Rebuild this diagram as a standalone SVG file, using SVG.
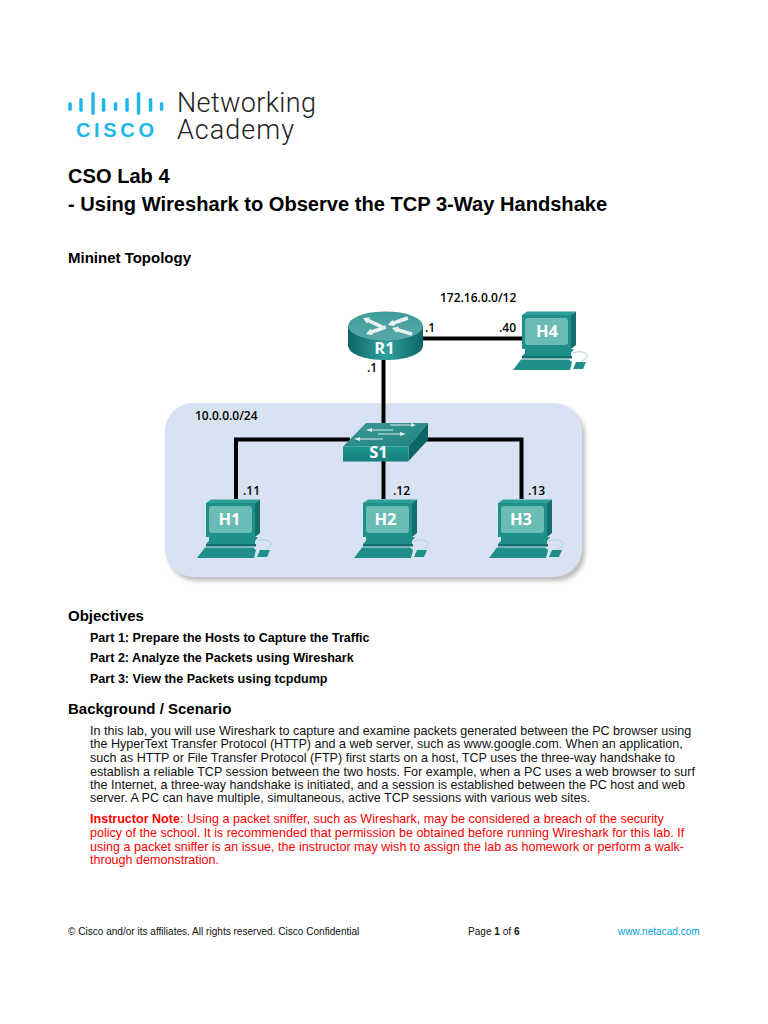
<svg xmlns="http://www.w3.org/2000/svg" width="768" height="1024" viewBox="0 0 768 1024">
<style>
text{font-family:"Liberation Sans",Arial,sans-serif;fill:#000}
.h1{font-size:20.100px;font-weight:700}
.h2{font-size:15px;font-weight:700}
.part{font-size:12.550px;font-weight:700}
.body{font-size:12.550px;fill:#111}
.red{font-size:12.550px;fill:#f00}
.foot{font-size:10.070px;fill:#111}
.lbl{font-family:"Open Sans","DejaVu Sans",sans-serif;font-size:12px;font-weight:600}
.dev{font-family:"Open Sans","DejaVu Sans",sans-serif;font-size:16.500px;font-weight:700;fill:#fff;text-anchor:middle}
.logo{font-family:"Roboto","Inter",sans-serif;font-size:27px;font-weight:300;fill:#222}
.bar{fill:#1fb6e8}
.wire{fill:none;stroke:#000;stroke-width:4}
.teal{fill:#1f8f8a}
.tealD{fill:#136f6e}
.tealL{fill:#2f9f9a}
.arr{fill:#e8f2f1}
.sw{fill:#dcecec}
</style>
<defs>
<linearGradient id="rg" x1="0" x2="1" y1="0" y2="0"><stop offset="0" stop-color="#0d6667"/><stop offset=".5" stop-color="#2fa09d"/><stop offset="1" stop-color="#0d6667"/></linearGradient>
<linearGradient id="rt" x1="0" x2="0" y1="0" y2="1"><stop offset="0" stop-color="#3f9c9c"/><stop offset="1" stop-color="#5aa9aa"/></linearGradient>
<linearGradient id="sf" x1="0" x2="0" y1="0" y2="1"><stop offset="0" stop-color="#1d9691"/><stop offset="1" stop-color="#167f7c"/></linearGradient>
<linearGradient id="st" x1="0" x2="1" y1="0" y2="1"><stop offset="0" stop-color="#3b9a97"/><stop offset="1" stop-color="#1f827f"/></linearGradient>
<filter id="sh" x="-5%" y="-5%" width="112%" height="112%"><feGaussianBlur stdDeviation="2"/></filter>
<g id="pc">
<path class="tealL" d="M206 503 L211 499.500 H260 L255 503 Z"/>
<path class="tealD" d="M255 503 L260 499.500 V533 L255 537 Z"/>
<rect class="teal" x="206" y="503" width="49" height="34"/>
<rect x="209" y="506" width="43" height="27" rx="3" fill="#6bbcb5"/>
<path class="teal" d="M209 537 H258 L255 541 V544 H206 L209 541 Z"/>
<rect class="tealD" x="206" y="544" width="50" height="2.500"/>
<path class="teal" d="M205 547.500 H253 L256 550 L254 558 H197 Z"/>
<path class="teal" d="M260 550 H270 L267 557 H257 Z"/>
<path d="M257 541 C264 538 273 541 271 545 C270 548 266 548 265 550" fill="none" stroke="#a8d4d2" stroke-width="1"/>
</g>
<path id="ra" class="arr" d="M0 0 L-6 -3.500 V-1.800 H-21 V1.800 H-6 V3.500 Z"/>
</defs>
<rect width="768" height="1024" fill="#fff"/>

<g id="logo">
<rect class="bar" x="68.300" y="102" width="3.500" height="9" rx="1.700"/>
<rect class="bar" x="79.300" y="98" width="3.500" height="14" rx="1.700"/>
<rect class="bar" x="91.300" y="92" width="3.500" height="23" rx="1.700"/>
<rect class="bar" x="101.800" y="98" width="3.500" height="14" rx="1.700"/>
<rect class="bar" x="113.800" y="102" width="3.500" height="9" rx="1.700"/>
<rect class="bar" x="125.300" y="98" width="3.500" height="14" rx="1.700"/>
<rect class="bar" x="136.800" y="92" width="3.500" height="23" rx="1.700"/>
<rect class="bar" x="148.800" y="98" width="3.500" height="14" rx="1.700"/>
<rect class="bar" x="159.800" y="102" width="3.500" height="9" rx="1.700"/>
<text x="76" y="137" font-size="20" font-weight="700" style="fill:#1fb6e8" textLength="78" lengthAdjust="spacing">CISCO</text>
<text class="logo" x="177" y="111.500" textLength="139">Networking</text>
<text class="logo" x="177" y="138.500" textLength="117">Academy</text>
</g>

<text class="h1" x="68" y="183">CSO Lab 4</text>
<text class="h1" x="68" y="211">- Using Wireshark to Observe the TCP 3-Way Handshake</text>
<text class="h2" x="68" y="263">Mininet Topology</text>

<rect x="168" y="407" width="417" height="174" rx="28" fill="#888" opacity=".55" filter="url(#sh)"/>
<rect id="lan" x="165" y="403" width="417" height="174" rx="28" fill="#d9e2f3"/>

<g id="connectors">
<path class="wire" d="M420 338.500 H522"/>
<path class="wire" d="M383.500 358 V426"/>
<path class="wire" d="M350 439.500 H236 V499"/>
<path class="wire" d="M383.500 461 V499"/>
<path class="wire" d="M425 439.500 H521.500 V499"/>
</g>

<g id="R1">
<path d="M348 326 V345 C348 354 364 360 385.500 360 C407 360 423 354 423 345 V326 Z" fill="url(#rg)"/>
<ellipse cx="385.500" cy="326" rx="37.500" ry="14.500" fill="url(#rt)"/>
<use href="#ra" transform="translate(363 318) rotate(205)"/>
<use href="#ra" transform="translate(388 325) rotate(160.700)"/>
<use href="#ra" transform="translate(366 334) rotate(160.700)"/>
<use href="#ra" transform="translate(392 328) rotate(197)"/>
<text class="dev" x="384.500" y="354">R1</text>
</g>
<g id="S1">
<path d="M343 446.500 L366 423 H428 L408.500 446.500 Z" fill="url(#st)"/>
<path d="M408.500 446.500 L428 423 V440 L408.500 461 Z" fill="#0e6565"/>
<rect x="343" y="446.500" width="65.500" height="15" fill="url(#sf)"/>
<path class="sw" d="M390 424.500 H411 V423 L416 425 L411 427 V425.500 H390 Z M393 429.500 H372 V428 L366 430 L372 432 V430.500 H393 Z M378 433.500 H400 V432 L406 434 L400 436 V434.500 H378 Z M383 438.500 H360 V437 L354 439 L360 441 V439.500 H383 Z"/>
<text class="dev" x="378.500" y="458">S1</text>
</g>
<g id="H1"><use href="#pc"/><text class="dev" x="229.500" y="525">H1</text></g>
<g id="H2"><use href="#pc" x="157"/><text class="dev" x="385.500" y="525">H2</text></g>
<g id="H3"><use href="#pc" x="292"/><text class="dev" x="521" y="525">H3</text></g>
<g id="H4"><use href="#pc" x="316" y="-188"/><text class="dev" x="547" y="337">H4</text></g>

<g id="labels">
<text class="lbl" x="440" y="302">172.16.0.0/12</text>
<text class="lbl" x="425" y="332">.1</text>
<text class="lbl" x="499" y="332">.40</text>
<text class="lbl" x="367" y="372">.1</text>
<text class="lbl" x="195" y="420">10.0.0.0/24</text>
<text class="lbl" x="243" y="495">.11</text>
<text class="lbl" x="393" y="495">.12</text>
<text class="lbl" x="528" y="495">.13</text>
</g>

<text class="h2" x="68" y="621">Objectives</text>
<text class="part" x="90" y="642">Part 1: Prepare the Hosts to Capture the Traffic</text>
<text class="part" x="90" y="662">Part 2: Analyze the Packets using Wireshark</text>
<text class="part" x="90" y="683">Part 3: View the Packets using tcpdump</text>
<text class="h2" x="68" y="714">Background / Scenario</text>
<text class="body" x="90" y="735">In this lab, you will use Wireshark to capture and examine packets generated between the PC browser using</text>
<text class="body" x="90" y="748">the HyperText Transfer Protocol (HTTP) and a web server, such as www.google.com. When an application,</text>
<text class="body" x="90" y="761.500">such as HTTP or File Transfer Protocol (FTP) first starts on a host, TCP uses the three-way handshake to</text>
<text class="body" x="90" y="775.500">establish a reliable TCP session between the two hosts. For example, when a PC uses a web browser to surf</text>
<text class="body" x="90" y="788.500">the Internet, a three-way handshake is initiated, and a session is established between the PC host and web</text>
<text class="body" x="90" y="802">server. A PC can have multiple, simultaneous, active TCP sessions with various web sites.</text>
<text class="red" x="90" y="823"><tspan font-weight="700">Instructor Note</tspan>: Using a packet sniffer, such as Wireshark, may be considered a breach of the security</text>
<text class="red" x="90" y="836.500">policy of the school. It is recommended that permission be obtained before running Wireshark for this lab. If</text>
<text class="red" x="90" y="850.500">using a packet sniffer is an issue, the instructor may wish to assign the lab as homework or perform a walk-</text>
<text class="red" x="90" y="864">through demonstration.</text>
<text class="foot" x="68" y="934.500">© Cisco and/or its affiliates. All rights reserved. Cisco Confidential</text>
<text class="foot" x="468" y="934.500">Page <tspan font-weight="700">1</tspan> of <tspan font-weight="700">6</tspan></text>
<text class="foot" x="618" y="934.500" style="fill:#049fd9">www.netacad.com</text>
</svg>
